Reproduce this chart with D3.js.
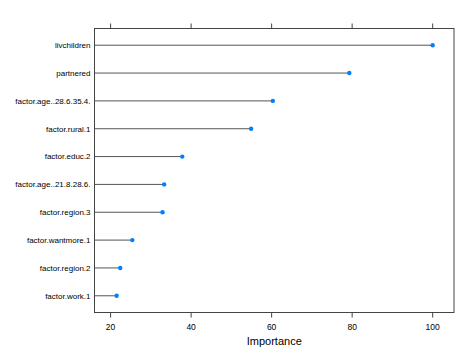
<!DOCTYPE html>
<html><head><meta charset="utf-8">
<script src="https://cdn.jsdelivr.net/npm/d3@7"></script>
<style>body{margin:0;background:#fff}svg{display:block}text{font-family:"Liberation Sans",Arial,sans-serif;fill:#000}</style>
</head><body><svg id="c" width="474" height="355"></svg>
<script>
const categories = ["livchildren","partnered","factor.age..28.6.35.4.","factor.rural.1","factor.educ.2","factor.age..21.8.28.6.","factor.region.3","factor.wantmore.1","factor.region.2","factor.work.1"];
const importance = [100, 79.3, 60.3, 54.9, 37.8, 33.3, 32.9, 25.4, 22.4, 21.5];
const xTicks = [20, 40, 60, 80, 100];

const svg = d3.select("#c");
const L = 94.5, R = 454, T = 28.5, B = 312.5;
const x = d3.scaleLinear().domain([16, 105.3]).range([L, R]);
const y = d3.scaleLinear().domain([0.4, 10.6]).range([T, B]);

const g = svg.append("g");
g.selectAll("line.seg").data(categories).enter().append("line")
  .attr("x1", L).attr("x2", (d,i)=>x(importance[i]))
  .attr("y1", (d,i)=>y(i+1)).attr("y2", (d,i)=>y(i+1))
  .attr("stroke", "#555").attr("stroke-width", 1);
g.selectAll("circle").data(importance).enter().append("circle")
  .attr("cx", d=>x(d)).attr("cy", (d,i)=>y(i+1)).attr("r", 2.2)
  .attr("fill", "#0080ff");
g.selectAll("text.lab").data(categories).enter().append("text")
  .attr("x", L-4).attr("y", (d,i)=>y(i+1)).attr("dy", "0.35em")
  .attr("text-anchor", "end").attr("font-size", 8).text(d=>d);
svg.append("rect").attr("x", L).attr("y", T).attr("width", R-L).attr("height", B-T)
  .attr("fill", "none").attr("stroke", "#444").attr("stroke-width", 1);
const ab = svg.append("g");
xTicks.forEach(t=>{
  ab.append("line").attr("x1", x(t)).attr("x2", x(t)).attr("y1", B).attr("y2", B+5).attr("stroke","#444");
  ab.append("text").attr("x", x(t)).attr("y", B+17).attr("text-anchor","middle").attr("font-size", 8.5).text(t);
  ab.append("line").attr("x1", x(t)).attr("x2", x(t)).attr("y1", T).attr("y2", T-5).attr("stroke","#444");
});
svg.append("text").attr("x", (L+R)/2).attr("y", 345).attr("text-anchor","middle").attr("font-size", 11).text("Importance");
</script></body></html>
